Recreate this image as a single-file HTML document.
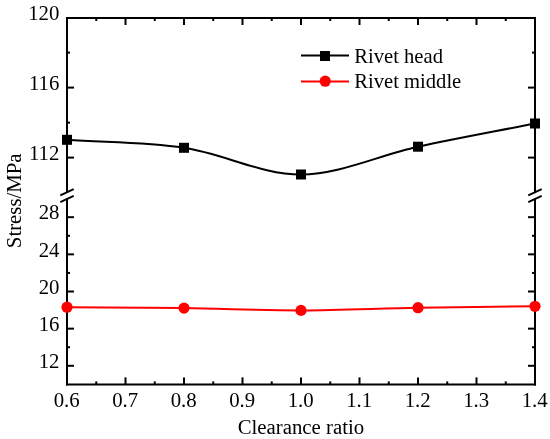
<!DOCTYPE html>
<html><head><meta charset="utf-8"><style>
html,body{margin:0;padding:0;background:#fff;}
svg{display:block;}
text{font-family:"Liberation Serif","Times New Roman",serif;font-size:20.8px;fill:#000;}
</style></head><body>
<svg width="550" height="439" viewBox="0 0 550 439">
<rect width="550" height="439" fill="#fff"/>
<line x1="66" y1="18.0" x2="536" y2="18.0" stroke="#000" stroke-width="2"/>
<line x1="66" y1="384.4" x2="536" y2="384.4" stroke="#000" stroke-width="2"/>
<line x1="67" y1="17.0" x2="67" y2="192.4" stroke="#000" stroke-width="2"/>
<line x1="67" y1="198.6" x2="67" y2="385.4" stroke="#000" stroke-width="2"/>
<line x1="60.3" y1="195.30" x2="73.7" y2="189.10" stroke="#000" stroke-width="2"/>
<line x1="60.3" y1="202.10" x2="73.7" y2="195.90" stroke="#000" stroke-width="2"/>
<line x1="535" y1="17.0" x2="535" y2="192.4" stroke="#000" stroke-width="2"/>
<line x1="535" y1="198.6" x2="535" y2="385.4" stroke="#000" stroke-width="2"/>
<line x1="528.3" y1="195.30" x2="541.7" y2="189.10" stroke="#000" stroke-width="2"/>
<line x1="528.3" y1="202.10" x2="541.7" y2="195.90" stroke="#000" stroke-width="2"/>
<line x1="96.25" y1="384.4" x2="96.25" y2="381.4" stroke="#000" stroke-width="2"/>
<line x1="96.25" y1="18.0" x2="96.25" y2="21.0" stroke="#000" stroke-width="2"/>
<line x1="125.50" y1="384.4" x2="125.50" y2="377.4" stroke="#000" stroke-width="2"/>
<line x1="125.50" y1="18.0" x2="125.50" y2="25.0" stroke="#000" stroke-width="2"/>
<line x1="154.75" y1="384.4" x2="154.75" y2="381.4" stroke="#000" stroke-width="2"/>
<line x1="154.75" y1="18.0" x2="154.75" y2="21.0" stroke="#000" stroke-width="2"/>
<line x1="184.00" y1="384.4" x2="184.00" y2="377.4" stroke="#000" stroke-width="2"/>
<line x1="184.00" y1="18.0" x2="184.00" y2="25.0" stroke="#000" stroke-width="2"/>
<line x1="213.25" y1="384.4" x2="213.25" y2="381.4" stroke="#000" stroke-width="2"/>
<line x1="213.25" y1="18.0" x2="213.25" y2="21.0" stroke="#000" stroke-width="2"/>
<line x1="242.50" y1="384.4" x2="242.50" y2="377.4" stroke="#000" stroke-width="2"/>
<line x1="242.50" y1="18.0" x2="242.50" y2="25.0" stroke="#000" stroke-width="2"/>
<line x1="271.75" y1="384.4" x2="271.75" y2="381.4" stroke="#000" stroke-width="2"/>
<line x1="271.75" y1="18.0" x2="271.75" y2="21.0" stroke="#000" stroke-width="2"/>
<line x1="301.00" y1="384.4" x2="301.00" y2="377.4" stroke="#000" stroke-width="2"/>
<line x1="301.00" y1="18.0" x2="301.00" y2="25.0" stroke="#000" stroke-width="2"/>
<line x1="330.25" y1="384.4" x2="330.25" y2="381.4" stroke="#000" stroke-width="2"/>
<line x1="330.25" y1="18.0" x2="330.25" y2="21.0" stroke="#000" stroke-width="2"/>
<line x1="359.50" y1="384.4" x2="359.50" y2="377.4" stroke="#000" stroke-width="2"/>
<line x1="359.50" y1="18.0" x2="359.50" y2="25.0" stroke="#000" stroke-width="2"/>
<line x1="388.75" y1="384.4" x2="388.75" y2="381.4" stroke="#000" stroke-width="2"/>
<line x1="388.75" y1="18.0" x2="388.75" y2="21.0" stroke="#000" stroke-width="2"/>
<line x1="418.00" y1="384.4" x2="418.00" y2="377.4" stroke="#000" stroke-width="2"/>
<line x1="418.00" y1="18.0" x2="418.00" y2="25.0" stroke="#000" stroke-width="2"/>
<line x1="447.25" y1="384.4" x2="447.25" y2="381.4" stroke="#000" stroke-width="2"/>
<line x1="447.25" y1="18.0" x2="447.25" y2="21.0" stroke="#000" stroke-width="2"/>
<line x1="476.50" y1="384.4" x2="476.50" y2="377.4" stroke="#000" stroke-width="2"/>
<line x1="476.50" y1="18.0" x2="476.50" y2="25.0" stroke="#000" stroke-width="2"/>
<line x1="505.75" y1="384.4" x2="505.75" y2="381.4" stroke="#000" stroke-width="2"/>
<line x1="505.75" y1="18.0" x2="505.75" y2="21.0" stroke="#000" stroke-width="2"/>
<line x1="67" y1="52.60" x2="70" y2="52.60" stroke="#000" stroke-width="2"/>
<line x1="535" y1="52.60" x2="532" y2="52.60" stroke="#000" stroke-width="2"/>
<line x1="67" y1="87.60" x2="74" y2="87.60" stroke="#000" stroke-width="2"/>
<line x1="535" y1="87.60" x2="528" y2="87.60" stroke="#000" stroke-width="2"/>
<line x1="67" y1="122.60" x2="70" y2="122.60" stroke="#000" stroke-width="2"/>
<line x1="535" y1="122.60" x2="532" y2="122.60" stroke="#000" stroke-width="2"/>
<line x1="67" y1="157.60" x2="74" y2="157.60" stroke="#000" stroke-width="2"/>
<line x1="535" y1="157.60" x2="528" y2="157.60" stroke="#000" stroke-width="2"/>
<line x1="67" y1="217.20" x2="74" y2="217.20" stroke="#000" stroke-width="2"/>
<line x1="535" y1="217.20" x2="528" y2="217.20" stroke="#000" stroke-width="2"/>
<line x1="67" y1="235.78" x2="70" y2="235.78" stroke="#000" stroke-width="2"/>
<line x1="535" y1="235.78" x2="532" y2="235.78" stroke="#000" stroke-width="2"/>
<line x1="67" y1="254.35" x2="74" y2="254.35" stroke="#000" stroke-width="2"/>
<line x1="535" y1="254.35" x2="528" y2="254.35" stroke="#000" stroke-width="2"/>
<line x1="67" y1="272.93" x2="70" y2="272.93" stroke="#000" stroke-width="2"/>
<line x1="535" y1="272.93" x2="532" y2="272.93" stroke="#000" stroke-width="2"/>
<line x1="67" y1="291.50" x2="74" y2="291.50" stroke="#000" stroke-width="2"/>
<line x1="535" y1="291.50" x2="528" y2="291.50" stroke="#000" stroke-width="2"/>
<line x1="67" y1="310.08" x2="70" y2="310.08" stroke="#000" stroke-width="2"/>
<line x1="535" y1="310.08" x2="532" y2="310.08" stroke="#000" stroke-width="2"/>
<line x1="67" y1="328.65" x2="74" y2="328.65" stroke="#000" stroke-width="2"/>
<line x1="535" y1="328.65" x2="528" y2="328.65" stroke="#000" stroke-width="2"/>
<line x1="67" y1="347.23" x2="70" y2="347.23" stroke="#000" stroke-width="2"/>
<line x1="535" y1="347.23" x2="532" y2="347.23" stroke="#000" stroke-width="2"/>
<line x1="67" y1="365.80" x2="74" y2="365.80" stroke="#000" stroke-width="2"/>
<line x1="535" y1="365.80" x2="528" y2="365.80" stroke="#000" stroke-width="2"/>
<path d="M67,139.8 C106.00,142.47 145.00,142.02 184,147.8 C223.00,153.58 262.00,174.68 301,174.5 C340.00,174.32 379.00,155.20 418,146.7 C457.00,138.20 496.00,131.23 535,123.5" fill="none" stroke="#000" stroke-width="2"/>
<path d="M67,307.2 C106.00,307.50 145.00,307.57 184,308.1 C223.00,308.63 262.00,310.47 301,310.4 C340.00,310.33 379.00,308.38 418,307.7 C457.00,307.02 496.00,306.77 535,306.3" fill="none" stroke="#f00" stroke-width="2"/>
<rect x="62.00" y="134.80" width="10" height="10" fill="#000"/>
<rect x="179.00" y="142.80" width="10" height="10" fill="#000"/>
<rect x="296.00" y="169.50" width="10" height="10" fill="#000"/>
<rect x="413.00" y="141.70" width="10" height="10" fill="#000"/>
<rect x="530.00" y="118.50" width="10" height="10" fill="#000"/>
<circle cx="67.00" cy="307.20" r="5.6" fill="#f00"/>
<circle cx="184.00" cy="308.10" r="5.6" fill="#f00"/>
<circle cx="301.00" cy="310.40" r="5.6" fill="#f00"/>
<circle cx="418.00" cy="307.70" r="5.6" fill="#f00"/>
<circle cx="535.00" cy="306.30" r="5.6" fill="#f00"/>
<line x1="301" y1="55.6" x2="349" y2="55.6" stroke="#000" stroke-width="2"/>
<rect x="320" y="51" width="10" height="10" fill="#000"/>
<line x1="301" y1="81.5" x2="349" y2="81.5" stroke="#f00" stroke-width="2"/>
<circle cx="325.2" cy="81.2" r="5.6" fill="#f00"/>
<text x="59.40" y="20.20" text-anchor="end" >120</text>
<text x="59.40" y="90.20" text-anchor="end" >116</text>
<text x="59.40" y="160.20" text-anchor="end" >112</text>
<text x="59.50" y="219.40" text-anchor="end" >28</text>
<text x="59.50" y="256.55" text-anchor="end" >24</text>
<text x="59.50" y="293.70" text-anchor="end" >20</text>
<text x="59.50" y="330.85" text-anchor="end" >16</text>
<text x="59.50" y="368.00" text-anchor="end" >12</text>
<text x="66.70" y="407.20" text-anchor="middle" >0.6</text>
<text x="125.20" y="407.20" text-anchor="middle" >0.7</text>
<text x="183.70" y="407.20" text-anchor="middle" >0.8</text>
<text x="242.20" y="407.20" text-anchor="middle" >0.9</text>
<text x="300.70" y="407.20" text-anchor="middle" >1.0</text>
<text x="359.20" y="407.20" text-anchor="middle" >1.1</text>
<text x="417.70" y="407.20" text-anchor="middle" >1.2</text>
<text x="476.20" y="407.20" text-anchor="middle" >1.3</text>
<text x="534.70" y="407.20" text-anchor="middle" >1.4</text>
<text x="300.90" y="434.20" text-anchor="middle" >Clearance ratio</text>
<text x="0.00" y="0.00" text-anchor="middle" transform="translate(21.4 200.8) rotate(-90)">Stress/MPa</text>
<text x="354.30" y="62.90" text-anchor="start" style="font-size:20.6px">Rivet head</text>
<text x="354.30" y="88.20" text-anchor="start" style="font-size:20.6px">Rivet middle</text>
</svg>
</body></html>
